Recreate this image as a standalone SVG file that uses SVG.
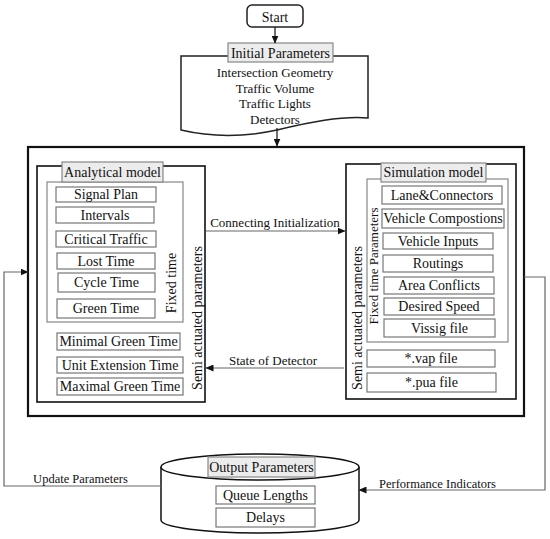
<svg xmlns="http://www.w3.org/2000/svg" width="550" height="539" viewBox="0 0 550 539">
<style>
text{font-family:"Liberation Serif","Times New Roman",serif;fill:#111;}
.t14{font-size:14px;text-anchor:middle;}
.t13{font-size:13px;text-anchor:middle;}
.t12{font-size:12.5px;text-anchor:middle;}
.lab{fill:#ececec;stroke:#888;stroke-width:1.2;}
.item{fill:#fff;stroke:#777;stroke-width:1.2;}
.inner{fill:none;stroke:#888;stroke-width:1.2;}
.model{fill:#fff;stroke:#111;stroke-width:1.6;}
.conn{fill:none;stroke:#666;stroke-width:1.2;}
.connb{fill:none;stroke:#111;stroke-width:1.2;}
</style>
<defs>
<marker id="ah" markerWidth="8" markerHeight="7" refX="7.5" refY="3.5" orient="auto" markerUnits="userSpaceOnUse">
<path d="M0,0 L8,3.5 L0,7 Z" fill="#111"/>
</marker>
</defs>
<rect width="550" height="539" fill="#fff"/>

<g id="start">
<rect x="247" y="5" width="56" height="22" rx="5" fill="#fff" stroke="#222" stroke-width="1.5"/>
<text class="t14" x="275" y="21.5">Start</text>
</g>

<g id="initial-parameters">
<path d="M181,56 L368,56 L368,118 C340,116 310,122 277,130 C245,137 215,138 181,130 Z" fill="#fff" stroke="#222" stroke-width="1.5"/>
<rect class="lab" x="228" y="43" width="105" height="19"/>
<text class="t14" x="280.5" y="57.5">Initial Parameters</text>
<text class="t13" x="275" y="77">Intersection Geometry</text>
<text class="t13" x="275" y="93">Traffic Volume</text>
<text class="t13" x="275" y="108">Traffic Lights</text>
<text class="t13" x="275" y="124">Detectors</text>
</g>

<g id="outer">
<rect x="28" y="147" width="496" height="269" fill="none" stroke="#111" stroke-width="2.2"/>
</g>

<g id="analytical-model">
<rect class="model" x="37" y="166" width="168" height="236"/>
<rect class="inner" x="47" y="182" width="136" height="140"/>
<rect class="lab" x="62" y="162" width="101" height="20"/>
<text class="t14" x="112.5" y="177">Analytical model</text>
<rect class="item" x="56" y="187" width="100" height="15"/>
<text class="t14" x="106" y="199">Signal Plan</text>
<rect class="item" x="56" y="207" width="98" height="16"/>
<text class="t14" x="105" y="219.5">Intervals</text>
<rect class="item" x="56" y="231" width="100" height="16"/>
<text class="t14" x="106" y="243.5">Critical Traffic</text>
<rect class="item" x="57" y="253" width="98" height="16"/>
<text class="t14" x="106" y="265.5">Lost Time</text>
<rect class="item" x="58" y="273" width="97" height="19"/>
<text class="t14" x="106.5" y="287">Cycle Time</text>
<rect class="item" x="57" y="299" width="98" height="19"/>
<text class="t14" x="106" y="313">Green Time</text>
<rect class="item" x="57" y="333" width="123" height="17"/>
<text class="t14" x="118.5" y="346">Minimal Green Time</text>
<rect class="item" x="57" y="357" width="126" height="16"/>
<text class="t14" x="120" y="369.5">Unit Extension Time</text>
<rect class="item" x="57" y="378" width="126" height="17"/>
<text class="t14" x="120" y="391">Maximal Green Time</text>
<text class="t14" transform="translate(176,283) rotate(-90)">Fixed time</text>
<text class="t14" transform="translate(202,318) rotate(-90)">Semi actuated parameters</text>
</g>

<g id="simulation-model">
<rect class="model" x="346" y="164" width="170" height="235"/>
<rect class="inner" x="367" y="179" width="141" height="163"/>
<rect class="lab" x="381" y="163" width="105" height="19"/>
<text class="t14" x="433.5" y="177">Simulation model</text>
<rect class="item" x="382" y="186" width="120" height="18"/>
<text class="t14" x="442" y="199.5">Lane&amp;Connectors</text>
<rect class="item" x="382" y="209" width="122" height="19"/>
<text class="t14" x="443" y="223">Vehicle Compostions</text>
<rect class="item" x="383" y="233" width="110" height="16"/>
<text class="t14" x="438" y="245.5">Vehicle Inputs</text>
<rect class="item" x="383" y="255" width="110" height="17"/>
<text class="t14" x="438" y="268">Routings</text>
<rect class="item" x="384" y="277" width="110" height="17"/>
<text class="t14" x="439" y="290">Area Conflicts</text>
<rect class="item" x="384" y="298" width="110" height="17"/>
<text class="t14" x="439" y="311">Desired Speed</text>
<rect class="item" x="384" y="319" width="111" height="18"/>
<text class="t14" x="439.5" y="332.5">Vissig file</text>
<rect class="item" x="367" y="350" width="128" height="17"/>
<text class="t14" x="431" y="363">*.vap file</text>
<rect class="item" x="367" y="373" width="129" height="19"/>
<text class="t14" x="431.5" y="387">*.pua file</text>
<text class="t13" transform="translate(378,266) rotate(-90)">Fixed time Parameters</text>
<text class="t14" transform="translate(362,318) rotate(-90)">Semi actuated parameters</text>
</g>

<g id="output-parameters">
<path d="M161,467 L161,520 A99,13 0 0,0 359,520 L359,467" fill="#fff" stroke="#111" stroke-width="1.5"/>
<ellipse cx="260" cy="467" rx="99" ry="13" fill="#fff" stroke="#111" stroke-width="1.5"/>
<rect class="lab" x="208" y="457" width="107" height="20"/>
<text class="t14" x="261.5" y="472">Output Parameters</text>
<rect class="item" x="216" y="486" width="99" height="18"/>
<text class="t14" x="265.5" y="499.5">Queue Lengths</text>
<rect class="item" x="216" y="508" width="99" height="19"/>
<text class="t14" x="265.5" y="522">Delays</text>
</g>

<g id="connectors">
<line class="connb" x1="275" y1="27" x2="275" y2="43" marker-end="url(#ah)"/>
<line class="connb" x1="277" y1="128" x2="277" y2="146" marker-end="url(#ah)"/>
<line class="conn" x1="206" y1="231" x2="345" y2="231" marker-end="url(#ah)"/>
<text class="t13" x="275" y="227">Connecting Initialization</text>
<line class="conn" x1="344" y1="368" x2="206" y2="368" marker-end="url(#ah)"/>
<text class="t13" x="273" y="364.5">State of Detector</text>
<polyline class="conn" points="161,486 4,486 4,272 28,272" marker-end="url(#ah)"/>
<text class="t12" x="80.5" y="482.5">Update Parameters</text>
<polyline class="conn" points="524,277 545,277 545,490 359,490" marker-end="url(#ah)"/>
<text class="t12" x="437.5" y="487.5">Performance Indicators</text>
</g>
</svg>
